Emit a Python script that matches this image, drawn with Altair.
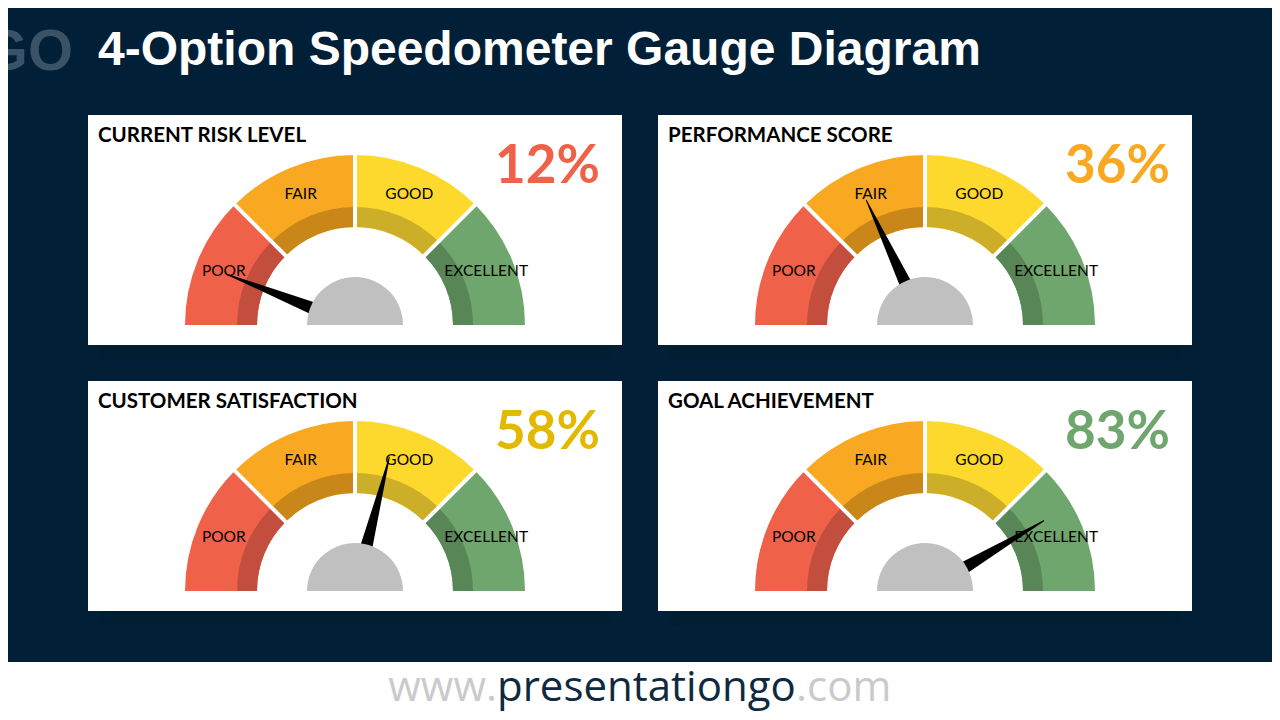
import math
import altair as alt
import pandas as pd

# ---------------- data ----------------
page_title = "4-Option Speedometer Gauge Diagram"
logo_text = "GO"
footer_parts = ["www.", "presentationgo", ".com"]

titles = ["CURRENT RISK LEVEL", "PERFORMANCE SCORE", "CUSTOMER SATISFACTION", "GOAL ACHIEVEMENT"]
values = [12, 36, 58, 83]
value_colors = ["#F0614A", "#F9A822", "#E3B800", "#6EA66D"]

segment_labels = ["POOR", "FAIR", "GOOD", "EXCELLENT"]
segment_colors = ["#F0614A", "#F9A822", "#FDD92E", "#6EA66D"]
segment_dark = ["#C44E3D", "#C98719", "#CDAE29", "#588657"]

# ---------------- layout ----------------
W, H = 1264, 704
X0, Y0 = 8, 8
BG = "#012037"
panel_origins = [(88, 115), (658, 115), (88, 381), (658, 381)]
PANEL_W, PANEL_H = 534, 230
CX_OFF, CY_OFF = 267, 210
R_OUT, R_IN, R_DARK = 170, 98, 118
R_HUB = 48
R_LABEL = 142
NEEDLE_LEN = 138
NEEDLE_BASE = 18
NEEDLE_START = 32

xs = alt.Scale(domain=[X0, X0 + W], nice=False, zero=False)
ys = alt.Scale(domain=[Y0, Y0 + H], nice=False, zero=False, reverse=True)


def XE(f):
    return alt.X(f, type="quantitative", scale=xs, axis=None)


def YE(f):
    return alt.Y(f, type="quantitative", scale=ys, axis=None)


def ang(v):
    # angle measured from the left end of the gauge (0..pi)
    return math.pi * v / 100.0


panels, shadows, arcs, rules, labels, needles, hubs, heads, pcts = [], [], [], [], [], [], [], [], []
n_seg = len(segment_labels)
for g, (ox, oy) in enumerate(panel_origins):
    panels.append(dict(x=ox, x2=ox + PANEL_W, y=oy, y2=oy + PANEL_H))
    shadows.append(dict(x=ox + 12, x2=ox + PANEL_W - 12, y=oy + PANEL_H, y2=oy + PANEL_H + 16))
    cx, cy = ox + CX_OFF, oy + CY_OFF
    for i in range(n_seg):
        v0, v1 = 100.0 * i / n_seg, 100.0 * (i + 1) / n_seg
        arcs.append(dict(cx=cx, cy=cy, t0=-math.pi / 2 + ang(v0), t1=-math.pi / 2 + ang(v1),
                         c=segment_colors[i], d=segment_dark[i]))
        a = ang((v0 + v1) / 2)
        labels.append(dict(x=cx - R_LABEL * math.cos(a), y=cy - R_LABEL * math.sin(a),
                           text=segment_labels[i]))
        if i > 0:
            a = ang(v0)
            rules.append(dict(x=cx - (R_IN - 2) * math.cos(a), y=cy - (R_IN - 2) * math.sin(a),
                              x2=cx - (R_OUT + 2) * math.cos(a), y2=cy - (R_OUT + 2) * math.sin(a)))
    a = ang(values[g])
    w0 = NEEDLE_BASE * (1 - NEEDLE_START / NEEDLE_LEN)
    needles.append(dict(g=g, o=0, x=cx - NEEDLE_START * math.cos(a), y=cy - NEEDLE_START * math.sin(a), w=w0))
    needles.append(dict(g=g, o=1, x=cx - NEEDLE_LEN * math.cos(a), y=cy - NEEDLE_LEN * math.sin(a), w=0))
    hubs.append(dict(cx=cx, cy=cy, t0=-math.pi / 2, t1=math.pi / 2))
    heads.append(dict(x=ox + 10, y=oy + 27, text=titles[g]))
    pcts.append(dict(x=ox + 512, y=oy + 68, text=f"{values[g]}%", c=value_colors[g]))

df = pd.DataFrame

background = alt.Chart(df([dict(x=X0, x2=X0 + W, y=662, y2=Y0 + H)])).mark_rect(color="white").encode(
    x=XE("x"), x2="x2", y=YE("y"), y2="y2")

shadow = alt.Chart(df(shadows)).mark_rect(color="#001A2D", opacity=0.5, cornerRadius=8).encode(
    x=XE("x"), x2="x2", y=YE("y"), y2="y2")

panel = alt.Chart(df(panels)).mark_rect(color="white").encode(
    x=XE("x"), x2="x2", y=YE("y"), y2="y2")

band = alt.Chart(df(arcs)).mark_arc(radius=R_OUT, radius2=R_IN).encode(
    x=XE("cx"), y=YE("cy"),
    theta=alt.Theta("t0:Q", scale=None), theta2="t1",
    color=alt.Color("c:N", scale=None))

dark = alt.Chart(df(arcs)).mark_arc(radius=R_DARK, radius2=R_IN).encode(
    x=XE("cx"), y=YE("cy"),
    theta=alt.Theta("t0:Q", scale=None), theta2="t1",
    color=alt.Color("d:N", scale=None))

seps = alt.Chart(df(rules)).mark_rule(color="white", strokeWidth=4).encode(
    x=XE("x"), y=YE("y"), x2="x2", y2="y2")

seg_text = alt.Chart(df(labels)).mark_text(font="Lato", fontSize=15.5, color="black",
                                           align="center", baseline="middle").encode(
    x=XE("x"), y=YE("y"), text="text:N")

needle = alt.Chart(df(needles)).mark_trail(color="black").encode(
    x=XE("x"), y=YE("y"), size=alt.Size("w:Q", scale=None), detail="g:N", order="o:Q")

hub = alt.Chart(df(hubs)).mark_arc(radius=R_HUB, color="#BFC0BF").encode(
    x=XE("cx"), y=YE("cy"),
    theta=alt.Theta("t0:Q", scale=None), theta2="t1")

head = alt.Chart(df(heads)).mark_text(font="Lato", fontSize=20.5, fontWeight="bold", color="black",
                                      align="left", baseline="alphabetic").encode(
    x=XE("x"), y=YE("y"), text="text:N")

pct = alt.Chart(df(pcts)).mark_text(font="Lato", fontSize=53, fontWeight="bold",
                                    align="right", baseline="alphabetic").encode(
    x=XE("x"), y=YE("y"), text="text:N", color=alt.Color("c:N", scale=None))

title = alt.Chart(df([dict(x=98, y=65, text=page_title)])).mark_text(
    font="Liberation Sans", fontSize=48, fontWeight="bold", color="white",
    align="left", baseline="alphabetic").encode(x=XE("x"), y=YE("y"), text="text:N")

logo = alt.Chart(df([dict(x=73, y=70, text=logo_text)])).mark_text(
    font="Liberation Sans", fontSize=58, fontWeight="bold", color="#3A5266",
    align="right", baseline="alphabetic").encode(x=XE("x"), y=YE("y"), text="text:N")

footer_r = alt.Chart(df([
    dict(x=497, y=701, text=footer_parts[0], c="#C9CACB"),
])).mark_text(font="Open Sans", fontSize=42, align="right", baseline="alphabetic").encode(
    x=XE("x"), y=YE("y"), text="text:N", color=alt.Color("c:N", scale=None))

footer_l = alt.Chart(df([
    dict(x=497, y=701, text=footer_parts[1], c="#0F2A40"),
    dict(x=796, y=701, text=footer_parts[2], c="#C9CACB"),
])).mark_text(font="Open Sans", fontSize=42, align="left", baseline="alphabetic").encode(
    x=XE("x"), y=YE("y"), text="text:N", color=alt.Color("c:N", scale=None))

chart = alt.layer(
    background, shadow, panel, band, dark, seps, seg_text, needle, hub, head, pct, title, logo,
    footer_r, footer_l
).properties(
    width=W, height=H, background=BG, padding=0,
    autosize=alt.AutoSizeParams(type="none")
).configure_view(stroke=None)

chart.save("out.html", embed_options={"renderer": "svg", "actions": False})
